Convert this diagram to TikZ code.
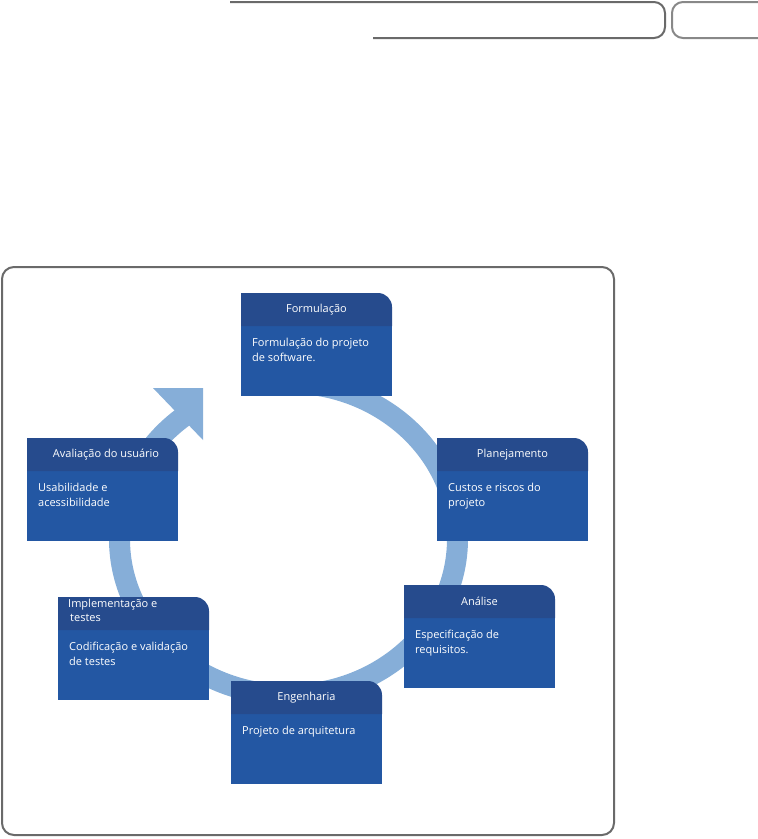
\documentclass[tikz,border=0pt]{standalone}
\usepackage{fontspec}
\setmainfont{Open Sans}
\definecolor{headc}{HTML}{264B8D}
\definecolor{bodyc}{HTML}{2357A3}
\definecolor{ringc}{HTML}{86AED8}
\definecolor{rulec}{HTML}{6A6A6A}
\tikzset{
  rulestyle/.style={draw=rulec,line width=2pt},
  framestyle/.style={draw=rulec,line width=2pt,rounded corners=12pt},
  ringstyle/.style={draw=ringc,line width=21pt},
  headtext/.style={text=white,font=\fontsize{11}{14}\selectfont,inner sep=0pt},
  bodytext/.style={text=white,font=\fontsize{11}{15.5}\selectfont,inner sep=0pt,align=left,anchor=north west},
}
\newcommand\stagebox[5]{%
  \fill[bodyc] (#2,#3+32) rectangle (#2+151,#3+103);
  \fill[headc] (#2,#3+33) -- (#2,#3) -- (#2+137,#3) arc[start angle=90,end angle=0,radius=14pt] -- (#2+151,#3+33) -- cycle;
  \node[bodytext] (#1-b) at (#2+11,#3+44.5) {#5};
}
\begin{document}
\begin{tikzpicture}[x=1pt,y=-1pt]
\useasboundingbox (0,0) rectangle (758,839);
% top rules
\draw[rulestyle] (230,2) -- (654,2) arc[start angle=90,end angle=0,radius=11pt] -- (665,27) arc[start angle=0,end angle=-90,radius=11pt] -- (373,38);
\draw[rulestyle,draw=rulec!80] (760,2) -- (683,2) arc[start angle=90,end angle=180,radius=11pt] -- (672,27) arc[start angle=180,end angle=270,radius=11pt] -- (760,38);
% frame
\draw[framestyle] (2,267) rectangle (614,835);
% cycle ring
\coordinate (c) at (288.5,539);
\draw[ringstyle] (c) ++(90:169pt and 156pt) arc[start angle=90,end angle=-234,x radius=169pt,y radius=156pt];
\fill[ringc] (153,388) -- (203,388) -- (203,440) -- cycle;
% boxes
\stagebox{form}{241}{293}{}{Formulação do projeto\\de software.}
\node[headtext] (form-h) at (241+75.5,293+16.5) {Formulação};
\stagebox{plan}{437}{438}{}{Custos e riscos do\\projeto}
\node[headtext] (plan-h) at (437+75.5,438+16.5) {Planejamento};
\stagebox{anal}{404}{585}{}{Especificação de\\requisitos.}
\node[headtext] (anal-h) at (404+75.5,585+16.5) {Análise};
\stagebox{eng}{231}{681}{}{Projeto de arquitetura}
\node[headtext] (eng-h) at (231+75.5,681+16.5) {Engenharia};
\stagebox{impl}{58}{597}{}{Codificação e validação\\de testes}
\node[headtext,align=left,anchor=north west] (impl-h) at (58+10,597+2) {Implementação e\\\hspace{2pt}testes};
\stagebox{aval}{27}{438}{}{Usabilidade e\\acessibilidade}
\node[headtext] (aval-h) at (27+79,438+16.5) {Avaliação do usuário};
\end{tikzpicture}
\end{document}
